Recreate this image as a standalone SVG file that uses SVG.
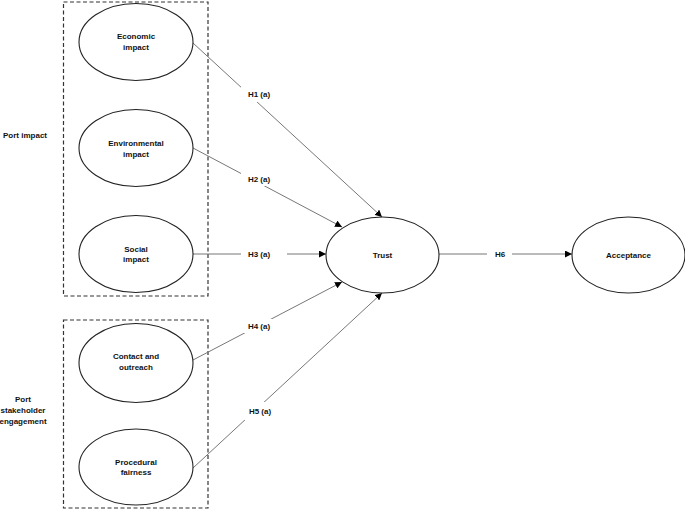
<svg xmlns="http://www.w3.org/2000/svg" width="685" height="510" viewBox="0 0 685 510">
<defs>
<style>
.bg{fill:#fff}
.box{fill:none;stroke:#333;stroke-width:1.2;stroke-dasharray:4,2.5}
.node ellipse{fill:#fff;stroke:#222;stroke-width:1.1}
text{font-family:"Liberation Sans",Arial,sans-serif;font-weight:bold;font-size:8px;fill:#111;text-anchor:middle}
.edge{stroke:#777;stroke-width:1;fill:none;marker-end:url(#arr)}
.lblbg{fill:#fff}
</style>
<marker id="arr" viewBox="0 0 10 10" refX="10" refY="5" markerWidth="7" markerHeight="7" markerUnits="userSpaceOnUse" orient="auto">
<path d="M0,0 L10,5 L0,10 z" fill="#000"/>
</marker>
</defs>
<rect class="bg" x="0" y="0" width="685" height="510"/>

<g id="groups">
<rect class="box" x="63.5" y="2" width="144.5" height="294"/>
<rect class="box" x="63.5" y="320" width="144.5" height="188"/>
<text x="25" y="138">Port impact</text>
<text x="23" y="402">Port</text>
<text x="23" y="413">stakeholder</text>
<text x="23" y="423.5">engagement</text>
</g>

<g id="connectors">
<line class="edge" x1="193" y1="43" x2="382" y2="217"/>
<line class="edge" x1="193" y1="148" x2="342" y2="227"/>
<line class="edge" x1="193" y1="254" x2="326" y2="254"/>
<line class="edge" x1="193" y1="360" x2="342" y2="282"/>
<line class="edge" x1="193" y1="468" x2="382" y2="293"/>
<line class="edge" x1="439" y1="254" x2="572" y2="254"/>
<rect class="lblbg" x="241" y="87" width="30" height="15"/>
<rect class="lblbg" x="241" y="173" width="30" height="13"/>
<rect class="lblbg" x="241" y="248" width="46" height="12"/>
<rect class="lblbg" x="241" y="319" width="36" height="14"/>
<rect class="lblbg" x="242" y="402" width="27" height="18"/>
<rect class="lblbg" x="487" y="248" width="25" height="12"/>
<text x="259" y="97">H1 (a)</text>
<text x="259" y="182">H2 (a)</text>
<text x="259" y="257">H3 (a)</text>
<text x="259" y="329">H4 (a)</text>
<text x="260" y="414">H5 (a)</text>
<text x="500" y="257">H6</text>
</g>

<g id="economic" class="node">
<ellipse cx="136" cy="42" rx="57" ry="38.5"/>
<text x="136" y="38.5">Economic</text>
<text x="136" y="49.5">impact</text>
</g>
<g id="environmental" class="node">
<ellipse cx="136" cy="148" rx="57" ry="38.5"/>
<text x="136" y="145.5">Environmental</text>
<text x="136" y="156.5">impact</text>
</g>
<g id="social" class="node">
<ellipse cx="136" cy="254" rx="57" ry="38.5"/>
<text x="136" y="251.5">Social</text>
<text x="136" y="262">impact</text>
</g>
<g id="contact" class="node">
<ellipse cx="136" cy="363" rx="57" ry="39.5"/>
<text x="136" y="358.5">Contact and</text>
<text x="136" y="369.5">outreach</text>
</g>
<g id="procedural" class="node">
<ellipse cx="136" cy="467" rx="57" ry="38"/>
<text x="136" y="464.5">Procedural</text>
<text x="136" y="475">fairness</text>
</g>
<g id="trust" class="node">
<ellipse cx="382.5" cy="255" rx="56.5" ry="38"/>
<text x="382.5" y="258">Trust</text>
</g>
<g id="acceptance" class="node">
<ellipse cx="628.5" cy="255" rx="56.5" ry="38"/>
<text x="628.5" y="257.5">Acceptance</text>
</g>
</svg>
